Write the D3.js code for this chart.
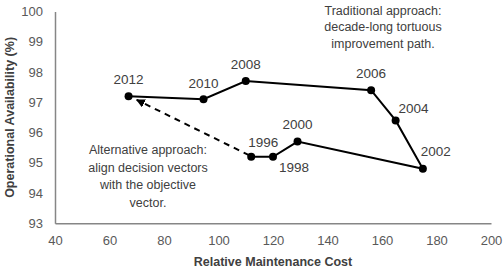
<!DOCTYPE html>
<html>
<head>
  <style>
    body, html { margin: 0; padding: 0; background: #fff; }
    svg text { font-family: "Liberation Sans", Arial, sans-serif; }
    svg text.narrow { font-family: "Liberation Sans Narrow", "Arial Narrow", "Liberation Sans", sans-serif; }
  </style>
</head>
<body>
  <svg id="svg" width="504" height="269"></svg>
  <script src="https://d3js.org/d3.v7.min.js"></script>
  <script>
    // path of the traditional approach, oldest first
    const years = ['1996', '1998', '2000', '2002', '2004', '2006', '2008', '2010', '2012']
    const cost = [112, 120, 129, 175, 165, 156, 110, 94.5, 67]
    const availability = [95.2, 95.2, 95.7, 94.8, 96.4, 97.4, 97.7, 97.1, 97.2]
    // label offset (px) relative to each point
    const labelDx = [12, 21, 0, 13, 18, 0, 0, 0, 0]
    const labelDy = [-14, 11, -17, -18, -12, -17, -17, -16, -17]

    // dashed arrow of the alternative approach
    const arrowFrom = [111.2, 95.25]
    const arrowTo = [70, 97.08]

    const xTicks = [40, 60, 80, 100, 120, 140, 160, 180, 200]
    const yTicks = [93, 94, 95, 96, 97, 98, 99, 100]

    const noteTraditional = ['Traditional approach:', 'decade-long tortuous', 'improvement path.']
    const noteAlternative = ['Alternative approach:', 'align decision vectors', 'with the objective', 'vector.']

    const svg = d3.select('#svg')
    const x = d3.scaleLinear().domain([40, 200]).range([55, 491])
    const y = d3.scaleLinear().domain([93, 100]).range([223.3, 11.5])

    // axes
    const xAxis = svg.append('g')
      .attr('transform', `translate(0, ${y(93)})`)
      .call(d3.axisBottom(x).tickValues(xTicks).tickSize(0).tickPadding(12).tickFormat(d3.format('d')))
    const yAxis = svg.append('g')
      .attr('transform', `translate(${x(40)}, 0)`)
      .call(d3.axisLeft(y).tickValues(yTicks).tickSize(0).tickPadding(12).tickFormat(d3.format('d')))
    for (const g of [xAxis, yAxis]) {
      g.select('.domain').attr('stroke', '#868686').attr('stroke-width', 1.5)
      g.selectAll('text').attr('font-size', 13).attr('fill', '#595959')
        .attr('class', 'narrow').attr('font-family', null)
    }

    svg.append('text')
      .attr('x', (x(40) + x(200)) / 2).attr('y', 266)
      .attr('text-anchor', 'middle').attr('font-size', 12.5).attr('font-weight', 'bold')
      .attr('fill', '#404040').text('Relative Maintenance Cost')
    svg.append('text')
      .attr('transform', `translate(14, ${(y(93) + y(100)) / 2}) rotate(-90)`)
      .attr('text-anchor', 'middle').attr('font-size', 12.5).attr('font-weight', 'bold')
      .attr('fill', '#404040').text('Operational Availability (%)')

    // dashed arrow
    svg.append('defs').append('marker')
      .attr('id', 'head').attr('viewBox', '0 0 10 10')
      .attr('refX', 9).attr('refY', 5)
      .attr('markerWidth', 4.5).attr('markerHeight', 4.5)
      .attr('orient', 'auto')
      .append('path').attr('d', 'M0,0L10,5L0,10Z').attr('fill', '#000')
    svg.append('line')
      .attr('x1', x(arrowFrom[0])).attr('y1', y(arrowFrom[1]))
      .attr('x2', x(arrowTo[0])).attr('y2', y(arrowTo[1]))
      .attr('stroke', '#000').attr('stroke-width', 2)
      .attr('stroke-dasharray', '6,5')
      .attr('marker-end', 'url(#head)')

    // solid path
    const pts = years.map((yr, i) => ({ yr, c: cost[i], a: availability[i], dx: labelDx[i], dy: labelDy[i] }))
    const line = d3.line().x(d => x(d.c)).y(d => y(d.a))
    svg.append('path')
      .attr('d', line(pts))
      .attr('fill', 'none').attr('stroke', '#000').attr('stroke-width', 2)

    svg.selectAll('circle.pt').data(pts).join('circle')
      .attr('class', 'pt')
      .attr('cx', d => x(d.c)).attr('cy', d => y(d.a)).attr('r', 4)
      .attr('fill', '#000')

    svg.selectAll('text.lbl').data(pts).join('text')
      .attr('class', 'lbl narrow')
      .attr('x', d => x(d.c) + d.dx).attr('y', d => y(d.a) + d.dy)
      .attr('dy', '0.35em').attr('text-anchor', 'middle')
      .attr('font-size', 13.5).attr('fill', '#404040')
      .text(d => d.yr)

    // notes
    svg.append('text')
      .attr('class', 'narrow')
      .attr('text-anchor', 'middle').attr('font-size', 12.5).attr('fill', '#404040')
      .selectAll('tspan').data(noteTraditional).join('tspan')
      .attr('x', 383).attr('y', (d, i) => 10.7 + i * 16.3).attr('dy', '0.35em')
      .text(d => d)
    svg.append('text')
      .attr('class', 'narrow')
      .attr('text-anchor', 'middle').attr('font-size', 12.5).attr('fill', '#404040')
      .selectAll('tspan').data(noteAlternative).join('tspan')
      .attr('x', 148).attr('y', (d, i) => 150 + i * 17.4).attr('dy', '0.35em')
      .text(d => d)
  </script>
</body>
</html>
